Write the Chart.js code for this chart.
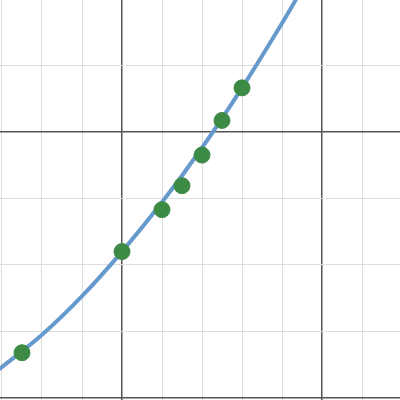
<!DOCTYPE html>
<html>
<head>
    <script src="https://cdn.jsdelivr.net/npm/chart.js@4.4.5/dist/chart.umd.min.js"></script>
    <style>body{margin:0;background:#fff;overflow:hidden}</style>
</head>
<body>
    <div style="width:400px;height:400px;overflow:hidden;position:relative">
        <div style="position:absolute;left:-9px;top:-9px;width:418px;height:418px"><canvas id="c"></canvas></div>
    </div>
    <script>
        // data points
        const pointX = [-2.5, 0, 1, 1.5, 2, 2.5, 3];
        const pointY = [0.68, 2.2, 2.83, 3.19, 3.65, 4.17, 4.66];
        // fitted curve
        const curveX = [-3.1, -2, -1, 0, 1, 2, 3, 4, 4.4];
        const curveY = [0.42, 0.95, 1.53, 2.2, 2.94, 3.76, 4.66, 5.63, 6.04];
        const xTicks = [-3, -2, -1, 0, 1, 2, 3, 4, 5, 6];
        const yTicks = [0, 1, 2, 3, 4, 5];

        const dark = (v, a, b) => v === a || v === b;

        new Chart(document.getElementById('c'), {
            type: 'scatter',
            data: {
                datasets: [
                    {
                        data: pointX.map((x, i) => ({ x, y: pointY[i] })),
                        backgroundColor: '#3d8a45',
                        borderColor: '#3d8a45',
                        pointRadius: 8,
                        order: 0
                    },
                    {
                        type: 'line',
                        data: curveX.map((x, i) => ({ x, y: curveY[i] })),
                        borderColor: '#6699cc',
                        borderWidth: 4,
                        pointRadius: 0,
                        cubicInterpolationMode: 'monotone',
                        order: 1
                    }
                ]
            },
            options: {
                responsive: true,
                maintainAspectRatio: false,
                animation: false,
                layout: { padding: 0 },
                plugins: { legend: { display: false }, tooltip: { enabled: false } },
                scales: {
                    x: {
                        type: 'linear', min: -3.05, max: 6.95,
                        afterBuildTicks: s => { s.ticks = xTicks.map(value => ({ value })); },
                        ticks: { display: false },
                        grid: { drawTicks: false, color: c => dark(c.tick && c.tick.value, 0, 5) ? '#555' : '#ddd', lineWidth: c => dark(c.tick && c.tick.value, 0, 5) ? 1.5 : 1 },
                        border: { display: false }
                    },
                    y: {
                        type: 'linear', min: -0.03, max: 5.98,
                        afterBuildTicks: s => { s.ticks = yTicks.map(value => ({ value })); },
                        ticks: { display: false },
                        grid: { drawTicks: false, color: c => dark(c.tick && c.tick.value, 0, 4) ? '#555' : '#ddd', lineWidth: c => dark(c.tick && c.tick.value, 0, 4) ? 1.5 : 1 },
                        border: { display: false }
                    }
                }
            }
        });
    </script>
</body>
</html>
